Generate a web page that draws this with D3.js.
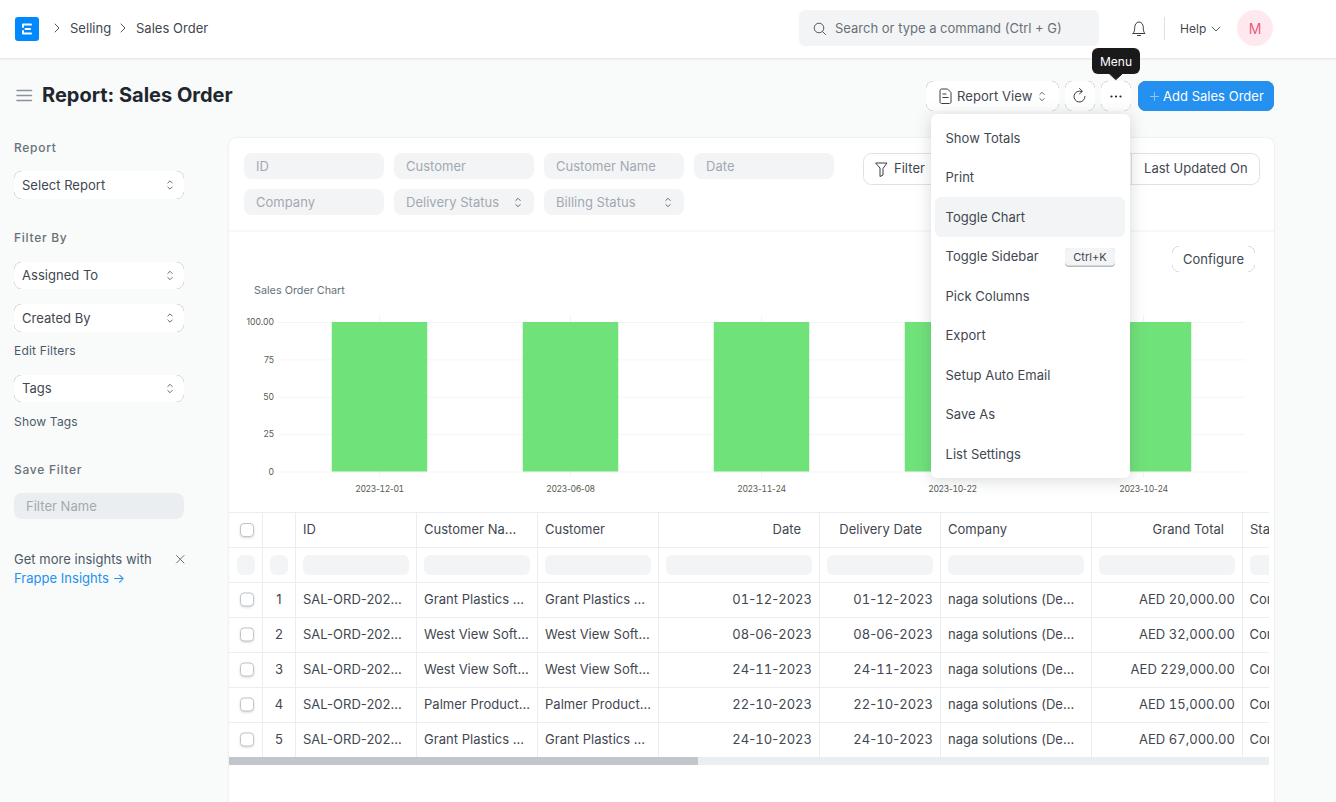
<!DOCTYPE html>
<html><head><meta charset="utf-8">
<script src="https://cdn.jsdelivr.net/npm/d3@7"></script>
<style>
html,body{margin:0;padding:0;background:#f9fafa;overflow:hidden}
svg{display:block;font-family:Inter,"Noto Sans",sans-serif}
.tn{font-variant-numeric:tabular-nums;font-feature-settings:"tnum" 1}
</style></head><body><svg id="c" width="1336" height="802"></svg>
<script>
const chartTitle = "Sales Order Chart";
const categories = ["2023-12-01","2023-06-08","2023-11-24","2023-10-22","2023-10-24"];
const values = [100,100,100,100,100];
const yTicks = [0,25,50,75,100];
const yTickLabels = ["0","25","50","75","100.00"];
const tableHeaders = ["ID","Customer Na...","Customer","Date","Delivery Date","Company","Grand Total","Status"];
const rowNos = ["1","2","3","4","5"];
const rowIds = ["SAL-ORD-202...","SAL-ORD-202...","SAL-ORD-202...","SAL-ORD-202...","SAL-ORD-202..."];
const rowCustomers = ["Grant Plastics ...","West View Soft...","West View Soft...","Palmer Product...","Grant Plastics ..."];
const rowDates = ["01-12-2023","08-06-2023","24-11-2023","22-10-2023","24-10-2023"];
const rowCompany = "naga solutions (De...";
const rowTotals = ["AED 20,000.00","AED 32,000.00","AED 229,000.00","AED 15,000.00","AED 67,000.00"];
const rowStatus = "Completed";
const menuItems = ["Show Totals","Print","Toggle Chart","Toggle Sidebar","Pick Columns","Export","Setup Auto Email","Save As","List Settings"];

const svg = d3.select("#c");
const INK="#3f4750", MUTED="#687178", PH="#a2a9b1", FIELD="#f3f4f6", LINE="#ebeef0";
function rect(x,y,w,h,o={}){const r=svg.append("rect").attr("x",x).attr("y",y).attr("width",w).attr("height",h)
  .attr("rx",o.r||0).attr("fill",o.fill||"#fff");
  if(o.stroke)r.attr("stroke",o.stroke);if(o.shadow)r.style("filter",o.shadow);return r;}
function text(t,x,y,o={}){return svg.append("text").attr("x",x).attr("y",y).attr("dy","0.35em").text(t)
  .attr("text-anchor",o.a||"start").attr("fill",o.fill||INK).attr("font-size",o.s||13)
  .attr("font-weight",o.w||400).style("letter-spacing",o.ls||"0.002em");}
function line(x1,y1,x2,y2,c,w){return svg.append("line").attr("x1",x1).attr("y1",y1).attr("x2",x2).attr("y2",y2).attr("stroke",c||LINE).attr("stroke-width",w||1);}
function path(d,o={}){return svg.append("path").attr("d",d).attr("fill",o.fill||"none").attr("stroke",o.stroke||INK).attr("stroke-width",o.sw||1).attr("stroke-linecap","round").attr("stroke-linejoin","round");}
// digits tabular, hyphens proportional
function dateSpans(sel,s){sel.text(null);s.split(/(-)/).forEach(p=>{const sp=sel.append("tspan").text(p);if(p!=="-")sp.attr("class","tn");});}
const BTN="drop-shadow(0 0 0.6px rgba(0,0,0,.4)) drop-shadow(0 0.7px 0.6px rgba(0,0,0,.25))";
function updown(x,y){path(`M${x-2.2} ${y-2}L${x} ${y-4.2}L${x+2.2} ${y-2}M${x-2.2} ${y+2}L${x} ${y+4.2}L${x+2.2} ${y+2}`,{stroke:"#4c5a67",sw:.9});}
function chev(x,y){path(`M${x-2} ${y-4}L${x+2} ${y}L${x-2} ${y+4}`,{stroke:"#4c5a67"});}
function select(x,y,w,h,t){rect(x,y,w,h,{r:8,shadow:BTN});text(t,x+8,y+h/2,{});updown(x+156,y+h/2);}

// main card
rect(229,138,1045,680,{r:8,shadow:"drop-shadow(0 0 1px rgba(0,0,0,.1))"});
// navbar
rect(0,0,1336,58,{shadow:"drop-shadow(0 1px 1px rgba(0,0,0,.1))"});
rect(15,17,24,24,{r:3,fill:"#0089ff"});
path("M23 24.5H31M25.5 29H30M23 33.5H31M23 24.5V27M23 31V33.5",{stroke:"#fff",sw:2});
chev(57,28);text("Selling",70,28);chev(123,28);text("Sales Order",136,28);
rect(799,10,300,36,{r:6,fill:FIELD});
svg.append("circle").attr("cx",819).attr("cy",28).attr("r",4.8).attr("fill","none").attr("stroke","#4c5a67");
path("M822.6 31.6L825.5 34.5",{stroke:"#4c5a67"});
text("Search or type a command (Ctrl + G)",835,28,{fill:"#687178",ls:"0"});
path("M1133 33.5H1145C1143.5 32 1143.3 30 1143.3 27.5C1143.3 24.5 1141.5 22 1139 22C1136.5 22 1134.7 24.5 1134.7 27.5C1134.7 30 1134.5 32 1133 33.5ZM1137.5 35.5H1140.5",{stroke:"#383e45"});
line(1164.5,17,1164.5,40,"#dfe2e5");
text("Help",1180,29,{s:12});path("M1212 27L1216 31L1220 27",{stroke:"#4c5a67"});
svg.append("circle").attr("cx",1255).attr("cy",28).attr("r",18).attr("fill","#ffe9ef");
text("M",1255,29,{a:"middle",fill:"#ee5a83",s:14,ls:"0"});

// page head
path("M17 90.5H31.5M17 95.5H31.5M17 100.5H31.5",{stroke:"#8a939b",sw:1.5});
text("Report: Sales Order",42,95,{s:20,w:700,fill:"#1f272e",ls:"0"});
// head buttons
rect(926,81,133,30,{r:8,shadow:BTN});
path("M940 90.5C940 89.5 940.8 89 941.5 89H947.5L951 92.5V102C951 102.8 950.3 103.5 949.5 103.5H941.5C940.7 103.5 940 102.8 940 102ZM942.8 94H946M942.8 97.5H948.2",{stroke:"#383e45"});
text("Report View",957,96.5,{ls:"0.006em"});updown(1042,96.5);
rect(1065,81,30,30,{r:8,shadow:BTN});
path("M1085 96.5A5.5 5.5 0 1 1 1081.5 91.4M1079.5 88.5L1082.5 91.3L1079.5 93.8",{stroke:"#383e45"});
rect(1101,81,30,30,{r:8,shadow:BTN});
[-4.5,0,4.5].forEach(d=>svg.append("circle").attr("cx",1116+d).attr("cy",96.5).attr("r",1.1).attr("fill","#1f272e"));
rect(1138,81,136,30,{r:8,fill:"#2490ef",shadow:BTN});
path("M1150.5 96.5H1158.5M1154.5 92.5V100.5",{stroke:"#8cc6f7"});
text("Add Sales Order",1163,96.5,{fill:"#fff"});

// sidebar
text("Report",14,147.5,{fill:MUTED,s:12,w:500,ls:"0.06em"});
select(14,171,170,28,"Select Report");
text("Filter By",14,238,{fill:MUTED,s:12,w:500,ls:"0.06em"});
select(14,262,170,27,"Assigned To");
select(14,304,170,28,"Created By");
text("Edit Filters",14,351,{s:12,ls:"0.015em",fill:"#4c5a67"});
select(14,375,170,27,"Tags");
text("Show Tags",14,422,{s:12,ls:"0.015em",fill:"#4c5a67"});
text("Save Filter",14,469.5,{fill:MUTED,s:12,w:500,ls:"0.06em"});
rect(14,493,170,26,{r:8,fill:"#ebeef0"});
text("Filter Name",26,506.5,{fill:PH});
text("Get more insights with",14,559.5,{fill:"#4c5a67"});
path("M176.5 555.5L184 563M184 555.5L176.5 563",{stroke:"#687178"});
text("Frappe Insights →",14,578.5,{fill:"#2490ef"});

// filter fields
[[244,153,"ID"],[394,153,"Customer"],[544,153,"Customer Name"],[694,153,"Date"],[244,189,"Company"],[394,189,"Delivery Status"],[544,189,"Billing Status"]]
 .forEach(([x,y,t],i)=>{rect(x,y,140,26,{r:8,fill:FIELD});text(t,x+12,y+13.5,{fill:PH});
   if(i>4)updown(x+124,y+13.5);});
rect(863.5,153.5,396,31,{r:8,stroke:"#dfe2e5"});
line(1131.5,153,1131.5,184,"#dfe2e5");
path("M876 163H887L883 168.5V175L880 176.5V168.5Z",{stroke:"#383e45"});
text("Filter",894,168.5);
text("Last Updated On",1144,168.5);
line(229,231,1274,231,"#f0f1f3");
rect(1172,246,83,26,{r:8,shadow:BTN});
text("Configure",1213.5,259.5,{a:"middle"});

// ---- chart ----
const x = d3.scaleBand().domain(categories).range([284,1239]).paddingInner(0.5).paddingOuter(0.25);
const y = d3.scaleLinear().domain([0,100]).range([471.5,322]);
text(chartTitle,254,290,{s:10.8,fill:"#687178",ls:"0"});
const g = svg.append("g");
const yAxis = d3.axisLeft(y).tickValues(yTicks).tickFormat((d,i)=>yTickLabels[i]).tickSize(0).tickPadding(4);
const yg = g.append("g").attr("transform","translate(278,0)").call(yAxis);
yg.select(".domain").remove();
yg.selectAll(".tick line").attr("x2",967).attr("stroke","#f4f5f6");
yg.selectAll("text").attr("font-size",8.7).attr("font-family","Inter").attr("fill","#555b51").attr("dy","0.3em");
const xAxis = d3.axisBottom(x).tickSize(161).tickPadding(9);
const xg = g.append("g").attr("transform","translate(0,316)").call(xAxis);
xg.select(".domain").remove();
xg.selectAll(".tick line").attr("stroke","#f1f2f3");
xg.selectAll("text").attr("font-size",8.6).attr("font-family","Inter").attr("fill","#555b51").style("letter-spacing","-0.4px")
  .each(function(d){dateSpans(d3.select(this),d);});
g.selectAll(".bar").data(categories).join("rect").attr("class","bar")
  .attr("x",d=>x(d)).attr("width",x.bandwidth())
  .attr("y",(d,i)=>y(values[i])).attr("height",(d,i)=>y(0)-y(values[i])).attr("fill","#70e27a");

// ---- table ----
const colX=[229,262.5,295.5,416.5,537.5,658.5,819.5,940.5,1091.5,1242.5];
const rowY=[512.5,547.5,582.5,617.5,652.5,687.5,722.5];
svg.append("clipPath").attr("id","tc").append("rect").attr("x",229).attr("y",505).attr("width",1040).attr("height",260);
const t = svg.append("g").attr("clip-path","url(#tc)");
function tt(s,xx,yy,a){return t.append("text").attr("x",xx).attr("y",yy).attr("dy","0.35em").text(s).attr("text-anchor",a||"start").attr("fill",INK).attr("font-size",13).style("letter-spacing","0.002em");}
rowY.forEach(v=>t.append("line").attr("x1",229).attr("x2",1269).attr("y1",v).attr("y2",v).attr("stroke",LINE));
colX.slice(1).forEach(v=>t.append("line").attr("x1",v).attr("x2",v).attr("y1",512).attr("y2",757).attr("stroke",LINE));
// filter row
colX.forEach((v,i)=>{const nx=i<colX.length-1?colX[i+1]:1300;
  t.append("rect").attr("x",(i==0?237:v+7.5)).attr("y",555).attr("width",(i==0?18:nx-v-15)).attr("height",20).attr("rx",6).attr("fill",FIELD);});
function cb(yy){t.append("rect").attr("x",240.5).attr("y",yy-6.5).attr("width",13).attr("height",13).attr("rx",3.5).attr("fill","#fff").attr("stroke","#bfc5ca").style("filter","drop-shadow(0 1px 1px rgba(0,0,0,.15))");}
cb(530);
const aligns=["start","start","start","end","end","start","end","start"];
tableHeaders.forEach((h,i)=>{const a=aligns[i];
  const off={3:801,4:922,6:1224};
  tt(h,a=="end"?off[i]:colX[i+2]+7.5,529.5,a);});
rowNos.forEach((n,i)=>{const yy=600+35*i-0.5;
  cb(yy);
  tt(n,279,yy,"middle");
  tt(rowIds[i],303,yy);
  tt(rowCustomers[i],424,yy);
  tt(rowCustomers[i],545,yy);
  dateSpans(tt("",812,yy,"end"),rowDates[i]);
  dateSpans(tt("",933,yy,"end"),rowDates[i]);
  tt(rowCompany,948,yy);
  tt(rowTotals[i],1235,yy,"end").attr("class","tn");
  tt(rowStatus,1249.5,yy);
});
rect(229,757,1040,8,{fill:"#ebeef0"});
rect(229,757,469,8,{fill:"#c0c6cc"});

// ---- menu ----
rect(931,114,199,364,{r:6,shadow:"drop-shadow(0 2px 8px rgba(25,39,52,.18))"});
rect(935,197,190,40,{r:6,fill:FIELD});
menuItems.forEach((m,i)=>text(m,945.5,138.2+39.5*i,{}));
rect(1065,248,50,19,{r:4,fill:"#b5bbc1"});
rect(1065,248,50,17.5,{r:4,fill:"#f3f4f6"});
text("Ctrl+K",1090,257,{a:"middle",s:11});
// tooltip
rect(1092,48,48,26,{r:6,fill:"#1a1a1a"});
path("M1110 74H1122L1116 79.5Z",{fill:"#1a1a1a",stroke:"#1a1a1a"});
text("Menu",1116,61.5,{a:"middle",fill:"#fff",s:12,ls:"0"});
</script></body></html>
